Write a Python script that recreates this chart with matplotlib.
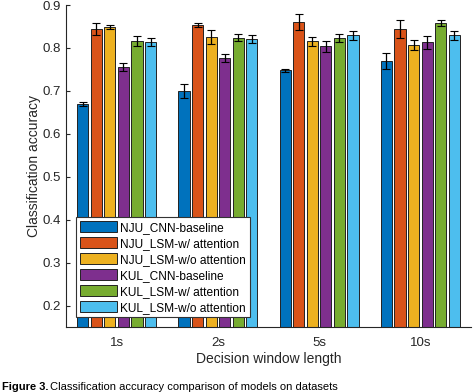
import numpy as np
import matplotlib.pyplot as plt

plt.rcParams['font.family'] = ['Liberation Sans', 'DejaVu Sans']

# ── Datos ─────────────────────────────────────────────────
ventanas = ['1s', '2s', '5s', '10s']
series = ['NJU_CNN-baseline', 'NJU_LSM-w/ attention', 'NJU_LSM-w/o attention',
          'KUL_CNN-baseline', 'KUL_LSM-w/ attention', 'KUL_LSM-w/o attention']

nju_cnn      = [0.669, 0.700, 0.748, 0.769]
nju_lsm_att  = [0.844, 0.853, 0.860, 0.843]
nju_lsm_no   = [0.849, 0.826, 0.815, 0.807]
kul_cnn      = [0.756, 0.776, 0.804, 0.813]
kul_lsm_att  = [0.816, 0.824, 0.823, 0.858]
kul_lsm_no   = [0.814, 0.821, 0.829, 0.829]

err_nju_cnn     = [0.005, 0.016, 0.004, 0.019]
err_nju_lsm_att = [0.015, 0.005, 0.018, 0.021]
err_nju_lsm_no  = [0.004, 0.016, 0.010, 0.011]
err_kul_cnn     = [0.010, 0.009, 0.013, 0.015]
err_kul_lsm_att = [0.012, 0.009, 0.009, 0.008]
err_kul_lsm_no  = [0.010, 0.010, 0.011, 0.010]

valores = [nju_cnn, nju_lsm_att, nju_lsm_no, kul_cnn, kul_lsm_att, kul_lsm_no]
errores = [err_nju_cnn, err_nju_lsm_att, err_nju_lsm_no,
           err_kul_cnn, err_kul_lsm_att, err_kul_lsm_no]

colores = ['#0072BD', '#D95319', '#EDB120', '#7E2F8E', '#77AC30', '#4DBEEE']

# ── Gráfica ───────────────────────────────────────────────
fig = plt.figure(figsize=(4.74, 3.92), dpi=100)
ax = fig.add_axes([66/474, 1 - 327/392, 405/474, 322/392])

x = np.arange(1, len(ventanas) + 1)
paso = 0.134
ancho = 0.11
for i in range(len(series)):
    pos = x + (i - 2.5) * paso
    ax.bar(pos, valores[i], ancho, color=colores[i], edgecolor='#222222',
           linewidth=0.7, label=series[i], zorder=2)
    ax.errorbar(pos, valores[i], yerr=errores[i], fmt='none', ecolor='black',
                elinewidth=0.9, capsize=3, capthick=0.8, zorder=3)

ax.set_xlim(0.5, 4.5)
ax.set_ylim(0.15, 0.9)
ax.set_xticks(x)
ax.set_xticklabels(ventanas)
ax.set_yticks([0.2, 0.3, 0.4, 0.5, 0.6, 0.7, 0.8, 0.9])
ax.tick_params(direction='in', labelsize=9.5, length=3, colors='#262626')
ax.tick_params(axis='x', length=0, pad=7)
for lado in ['top', 'right']:
    ax.spines[lado].set_visible(False)
for lado in ['left', 'bottom']:
    ax.spines[lado].set_color('#262626')
    ax.spines[lado].set_linewidth(0.8)

ax.set_xlabel('Decision window length', fontsize=10, color='#262626', labelpad=2)
ax.set_ylabel('Classification accuracy', fontsize=10, color='#262626', labelpad=1)

leg = ax.legend(loc='lower left', bbox_to_anchor=(0.025, 0.03), fontsize=8.6,
                handlelength=3.1, handleheight=1.1, labelspacing=0.27,
                handletextpad=0.3, borderpad=0.3, borderaxespad=0,
                fancybox=False, framealpha=1, edgecolor='#333333')
leg.get_frame().set_linewidth(0.8)

# Pie de figura (en el borde inferior, como en el original)
fig.text(0.005, 0.0, 'Figure 3.', fontsize=8, fontweight='bold', va='bottom')
fig.text(0.105, 0.0, 'Classification accuracy comparison of models on datasets',
         fontsize=8, va='bottom')

fig.savefig('out.png', dpi=100)
